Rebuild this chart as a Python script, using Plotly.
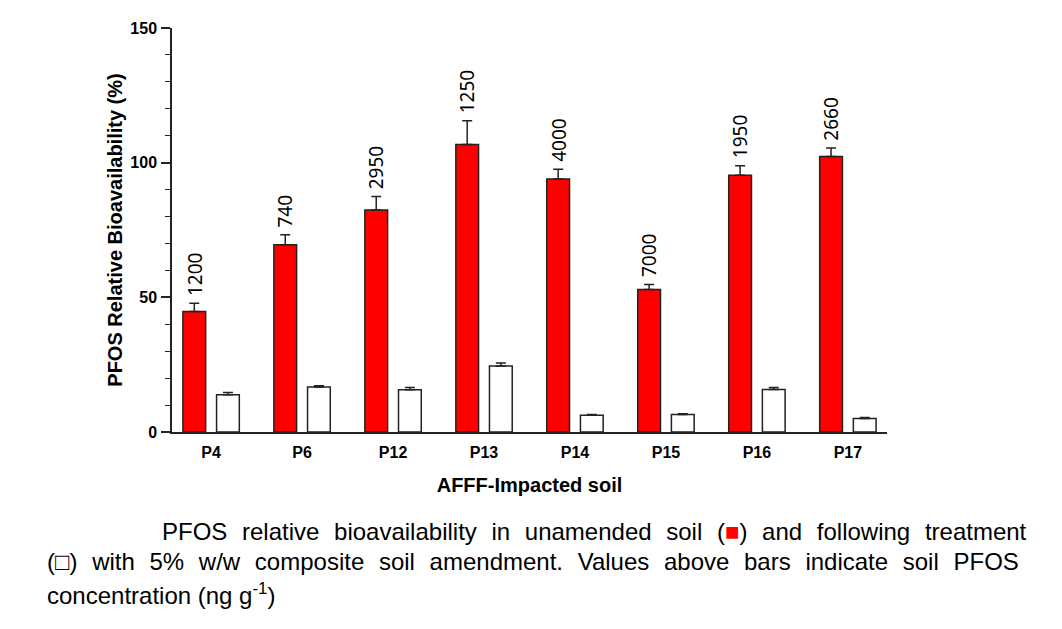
import plotly.graph_objects as go

soils = ["P4", "P6", "P12", "P13", "P14", "P15", "P16", "P17"]
unamended = [44.7, 69.5, 82.4, 106.7, 93.9, 52.9, 95.3, 102.3]
unamended_err = [3.1, 3.7, 5.0, 8.9, 3.7, 1.9, 3.6, 3.1]
treated = [13.8, 16.7, 15.7, 24.5, 6.2, 6.5, 15.8, 5.0]
treated_err = [0.9, 0.5, 0.8, 1.1, 0.3, 0.3, 0.7, 0.4]
pfos_conc = ["1200", "740", "2950", "1250", "4000", "7000", "1950", "2660"]

FONT = "Liberation Sans, Arial, sans-serif"

fig = go.Figure()
fig.add_trace(go.Bar(
    x=soils, y=unamended, name="Unamended",
    width=0.25, offset=-0.31,
    marker=dict(color="#ff0000", line=dict(color="#222222", width=1.5)),
    error_y=dict(type="data", array=unamended_err, symmetric=False,
                 arrayminus=[0] * len(soils), color="#222222",
                 thickness=1.5, width=5),
))
fig.add_trace(go.Bar(
    x=soils, y=treated, name="5% w/w amendment",
    width=0.25, offset=0.06,
    marker=dict(color="white", line=dict(color="#222222", width=1.5)),
    error_y=dict(type="data", array=treated_err, symmetric=False,
                 arrayminus=[0] * len(soils), color="#222222",
                 thickness=1.5, width=5),
))

# soil PFOS concentration above the red bars
for i, label in enumerate(pfos_conc):
    fig.add_annotation(
        x=i - 0.185, y=unamended[i] + unamended_err[i], xref="x", yref="y",
        text=label, textangle=-90, showarrow=False,
        xanchor="center", yanchor="bottom", yshift=5,
        font=dict(family="Noto Sans, sans-serif", size=19, color="black"),
    )

# caption below the chart (justified look via wider word gaps)
line1 = ("PFOS relative bioavailability in unamended soil "
         "(<span style='color:#ff0000'>■</span>) and following treatment")
line2 = "(□) with 5% w/w composite soil amendment. Values above bars indicate soil PFOS"
line3 = "concentration (ng g<sup>-1</sup>)"
caption = [
    (-0.017, -0.2475,
     line1.replace(" ", " \u2005\u200a").replace("span \u2005\u200astyle", "span style")),
    (-0.178, -0.321, line2.replace(" ", " \u2004")),
    (-0.178, -0.40, line3),
]
for cx, cy, txt in caption:
    fig.add_annotation(
        x=cx, y=cy, xref="paper", yref="paper", text=txt, showarrow=False,
        xanchor="left", yanchor="middle", align="left",
        font=dict(family=FONT, size=24, color="black"),
    )

fig.update_layout(
    width=1054, height=621,
    margin=dict(l=164, r=175, t=16, b=197),
    paper_bgcolor="white", plot_bgcolor="white",
    barmode="overlay", showlegend=False,
    font=dict(family=FONT, color="black"),
)
fig.update_xaxes(
    type="category", range=[-0.43, 7.43],
    showline=True, linecolor="#222222", linewidth=1.5,
    ticks="", showgrid=False, ticklabelstandoff=5,
    tickfont=dict(family=FONT, size=16, weight="bold"),
    title=dict(text="<b>AFFF-Impacted soil</b>", standoff=18,
               font=dict(family=FONT, size=20)),
)
fig.update_yaxes(
    range=[0, 150], tickvals=[0, 50, 100, 150],
    showline=True, linecolor="#222222", linewidth=1.5,
    ticks="outside", ticklen=9, tickwidth=1.5, tickcolor="#222222",
    ticklabelstandoff=1,
    minor=dict(dtick=10, ticks="outside", ticklen=5, tickwidth=1.2,
               tickcolor="#222222", showgrid=False),
    showgrid=False, zeroline=False,
    tickfont=dict(family=FONT, size=16, weight="bold"),
    title=dict(text="<b>PFOS Relative Bioavailability (%)</b>", standoff=2,
               font=dict(family=FONT, size=20)),
)

fig.write_html("out.html")
